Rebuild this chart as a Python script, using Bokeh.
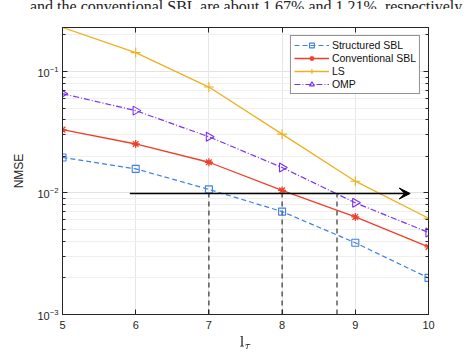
import numpy as np
from bokeh.plotting import figure
from bokeh.layouts import column
from bokeh.models import (LogAxis, LinearAxis, Range1d, LogTicker, FixedTicker,
                          Legend, LegendItem, Arrow, VeeHead, Div)
from bokeh.embed import file_html
from bokeh.resources import INLINE

# ---- data ----
l_tau = [5, 6, 7, 8, 9, 10]
structured_sbl = [0.0196, 0.0158, 0.0107, 0.00703, 0.00389, 0.0020]
conventional_sbl = [0.0332, 0.0253, 0.0179, 0.0105, 0.00635, 0.0036]
ls_vals = [0.23, 0.143, 0.0744, 0.0305, 0.0125, 0.0062]
omp_vals = [0.0656, 0.0476, 0.029, 0.0162, 0.0083, 0.00473]
x_ticks = [5, 6, 7, 8, 9, 10]
arrow_level = 0.0099
arrow_x = [5.92, 9.75]
cut_x = [7, 8, 8.75]
y_min, y_max = 1e-3, 0.23
caption = "and the conventional SBL are about 1.67% and 1.21%, respectively,"

C_BLUE = "#3d80e6"
C_RED = "#ee3f2a"
C_YEL = "#edb120"
C_PUR = "#7b30ee"
FONT = "Liberation Sans"

p = figure(width=474, height=346, y_axis_type="log",
           x_range=Range1d(5, 10), y_range=Range1d(y_min, y_max),
           output_backend="svg", toolbar_location=None,
           min_border_left=62, min_border_right=46, min_border_top=18,
           min_border_bottom=41, margin=0)
p.outline_line_color = "#262626"
p.outline_line_width = 1
p.background_fill_color = "white"
p.border_fill_color = "white"

# grid
p.xgrid.ticker = FixedTicker(ticks=x_ticks)
p.xgrid.grid_line_color = "#e6e6e6"
p.ygrid.grid_line_color = "#e3e3e3"
p.ygrid.minor_grid_line_color = "#efefef"

# axes
xa = p.xaxis[0]
xa.ticker = FixedTicker(ticks=x_ticks)
ya = p.yaxis[0]
ya.ticker = LogTicker(mantissas=[1], num_minor_ticks=10)
for ax in (xa, ya):
    ax.major_tick_in = 5
    ax.major_tick_out = 0
    ax.minor_tick_in = 3
    ax.minor_tick_out = 0
    ax.axis_line_color = "#262626"
    ax.major_tick_line_color = "#262626"
    ax.minor_tick_line_color = "#262626"
    ax.major_label_text_font = FONT
    ax.major_label_text_font_size = "11px"
    ax.major_label_text_color = "#262626"
    ax.axis_label_text_font = FONT
    ax.axis_label_text_font_size = "12px"
    ax.axis_label_text_font_style = "normal"
    ax.axis_label_text_color = "#262626"
xa.minor_tick_in = 0
xa.major_label_standoff = 6
xa.axis_label = r"$$\mathrm{l}_{\tau}$$"
xa.axis_label_standoff = 4
ya.axis_label = "NMSE"
ya.major_label_standoff = 4
ya.axis_label_standoff = 8

ra = LogAxis(ticker=LogTicker(mantissas=[1], num_minor_ticks=10),
             major_tick_in=5, major_tick_out=0, minor_tick_in=3, minor_tick_out=0,
             major_label_text_color=None, major_label_text_font_size="8px",
             axis_line_color="#262626",
             major_tick_line_color="#262626", minor_tick_line_color="#262626")
p.add_layout(ra, "right")
ta = LinearAxis(ticker=FixedTicker(ticks=x_ticks), major_tick_in=5, major_tick_out=0,
                minor_tick_in=0, minor_tick_out=0, major_label_text_color=None,
                major_label_text_font_size="8px", major_label_standoff=0,
                axis_line_color="#262626", major_tick_line_color="#262626")
p.add_layout(ta, "above")

# dashed vertical guides and arrow
for cx in cut_x:
    p.line([cx, cx], [y_min, arrow_level], line_color="#333333", line_width=1.2,
           line_dash="5 4")
p.add_layout(Arrow(x_start=arrow_x[0], y_start=arrow_level, x_end=arrow_x[1],
                   y_end=arrow_level, line_color="black", line_width=1.5,
                   end=VeeHead(size=11, fill_color="black", line_color="black")))

# series
r1l = p.line(l_tau, structured_sbl, line_color=C_BLUE, line_width=1.2, line_dash="5 3")
r1m = p.scatter(l_tau, structured_sbl, marker="square", size=7, line_color=C_BLUE,
                fill_color=None, line_width=1.1)
r2l = p.line(l_tau, conventional_sbl, line_color=C_RED, line_width=1.3)
r2m = p.scatter(l_tau, conventional_sbl, marker="asterisk", size=8, line_color=C_RED,
                line_width=1.3)
r3l = p.line(l_tau, ls_vals, line_color=C_YEL, line_width=1.3)
r3m = p.scatter(l_tau, ls_vals, marker="cross", size=10, line_color=C_YEL, line_width=1.1)
r4l = p.line(l_tau, omp_vals, line_color=C_PUR, line_width=1.2, line_dash="6 2 1 2")
r4m = p.scatter(l_tau, omp_vals, marker="triangle", size=9, angle=-np.pi / 2,
                line_color=C_PUR, fill_color=None, line_width=1.1)

legend = Legend(items=[
    LegendItem(label="Structured SBL", renderers=[r1l, r1m]),
    LegendItem(label="Conventional SBL", renderers=[r2l, r2m]),
    LegendItem(label="LS", renderers=[r3l, r3m]),
    LegendItem(label="OMP", renderers=[r4l, r4m]),
], location="top_right")
legend.label_text_font = FONT
legend.label_text_font_size = "10.5px"
legend.label_text_color = "#111111"
legend.glyph_width = 35
legend.glyph_height = 12
legend.label_height = 12
legend.spacing = 1
legend.padding = 3
legend.margin = 8
legend.label_standoff = 3
legend.border_line_color = "#262626"
legend.border_line_width = 1
legend.background_fill_alpha = 1
p.add_layout(legend)

cap = Div(text=('<div style="font-family:\'Liberation Serif\';font-size:16px;'
                'line-height:16px;margin-top:-8px;padding-left:30px;'
                'white-space:nowrap;color:#222222;">' + caption + '</div>'),
          width=474, height=9, margin=0, styles={"overflow": "hidden"})

layout = column(cap, p, spacing=0, margin=0)
open("out.html", "w").write(file_html(layout, INLINE))
